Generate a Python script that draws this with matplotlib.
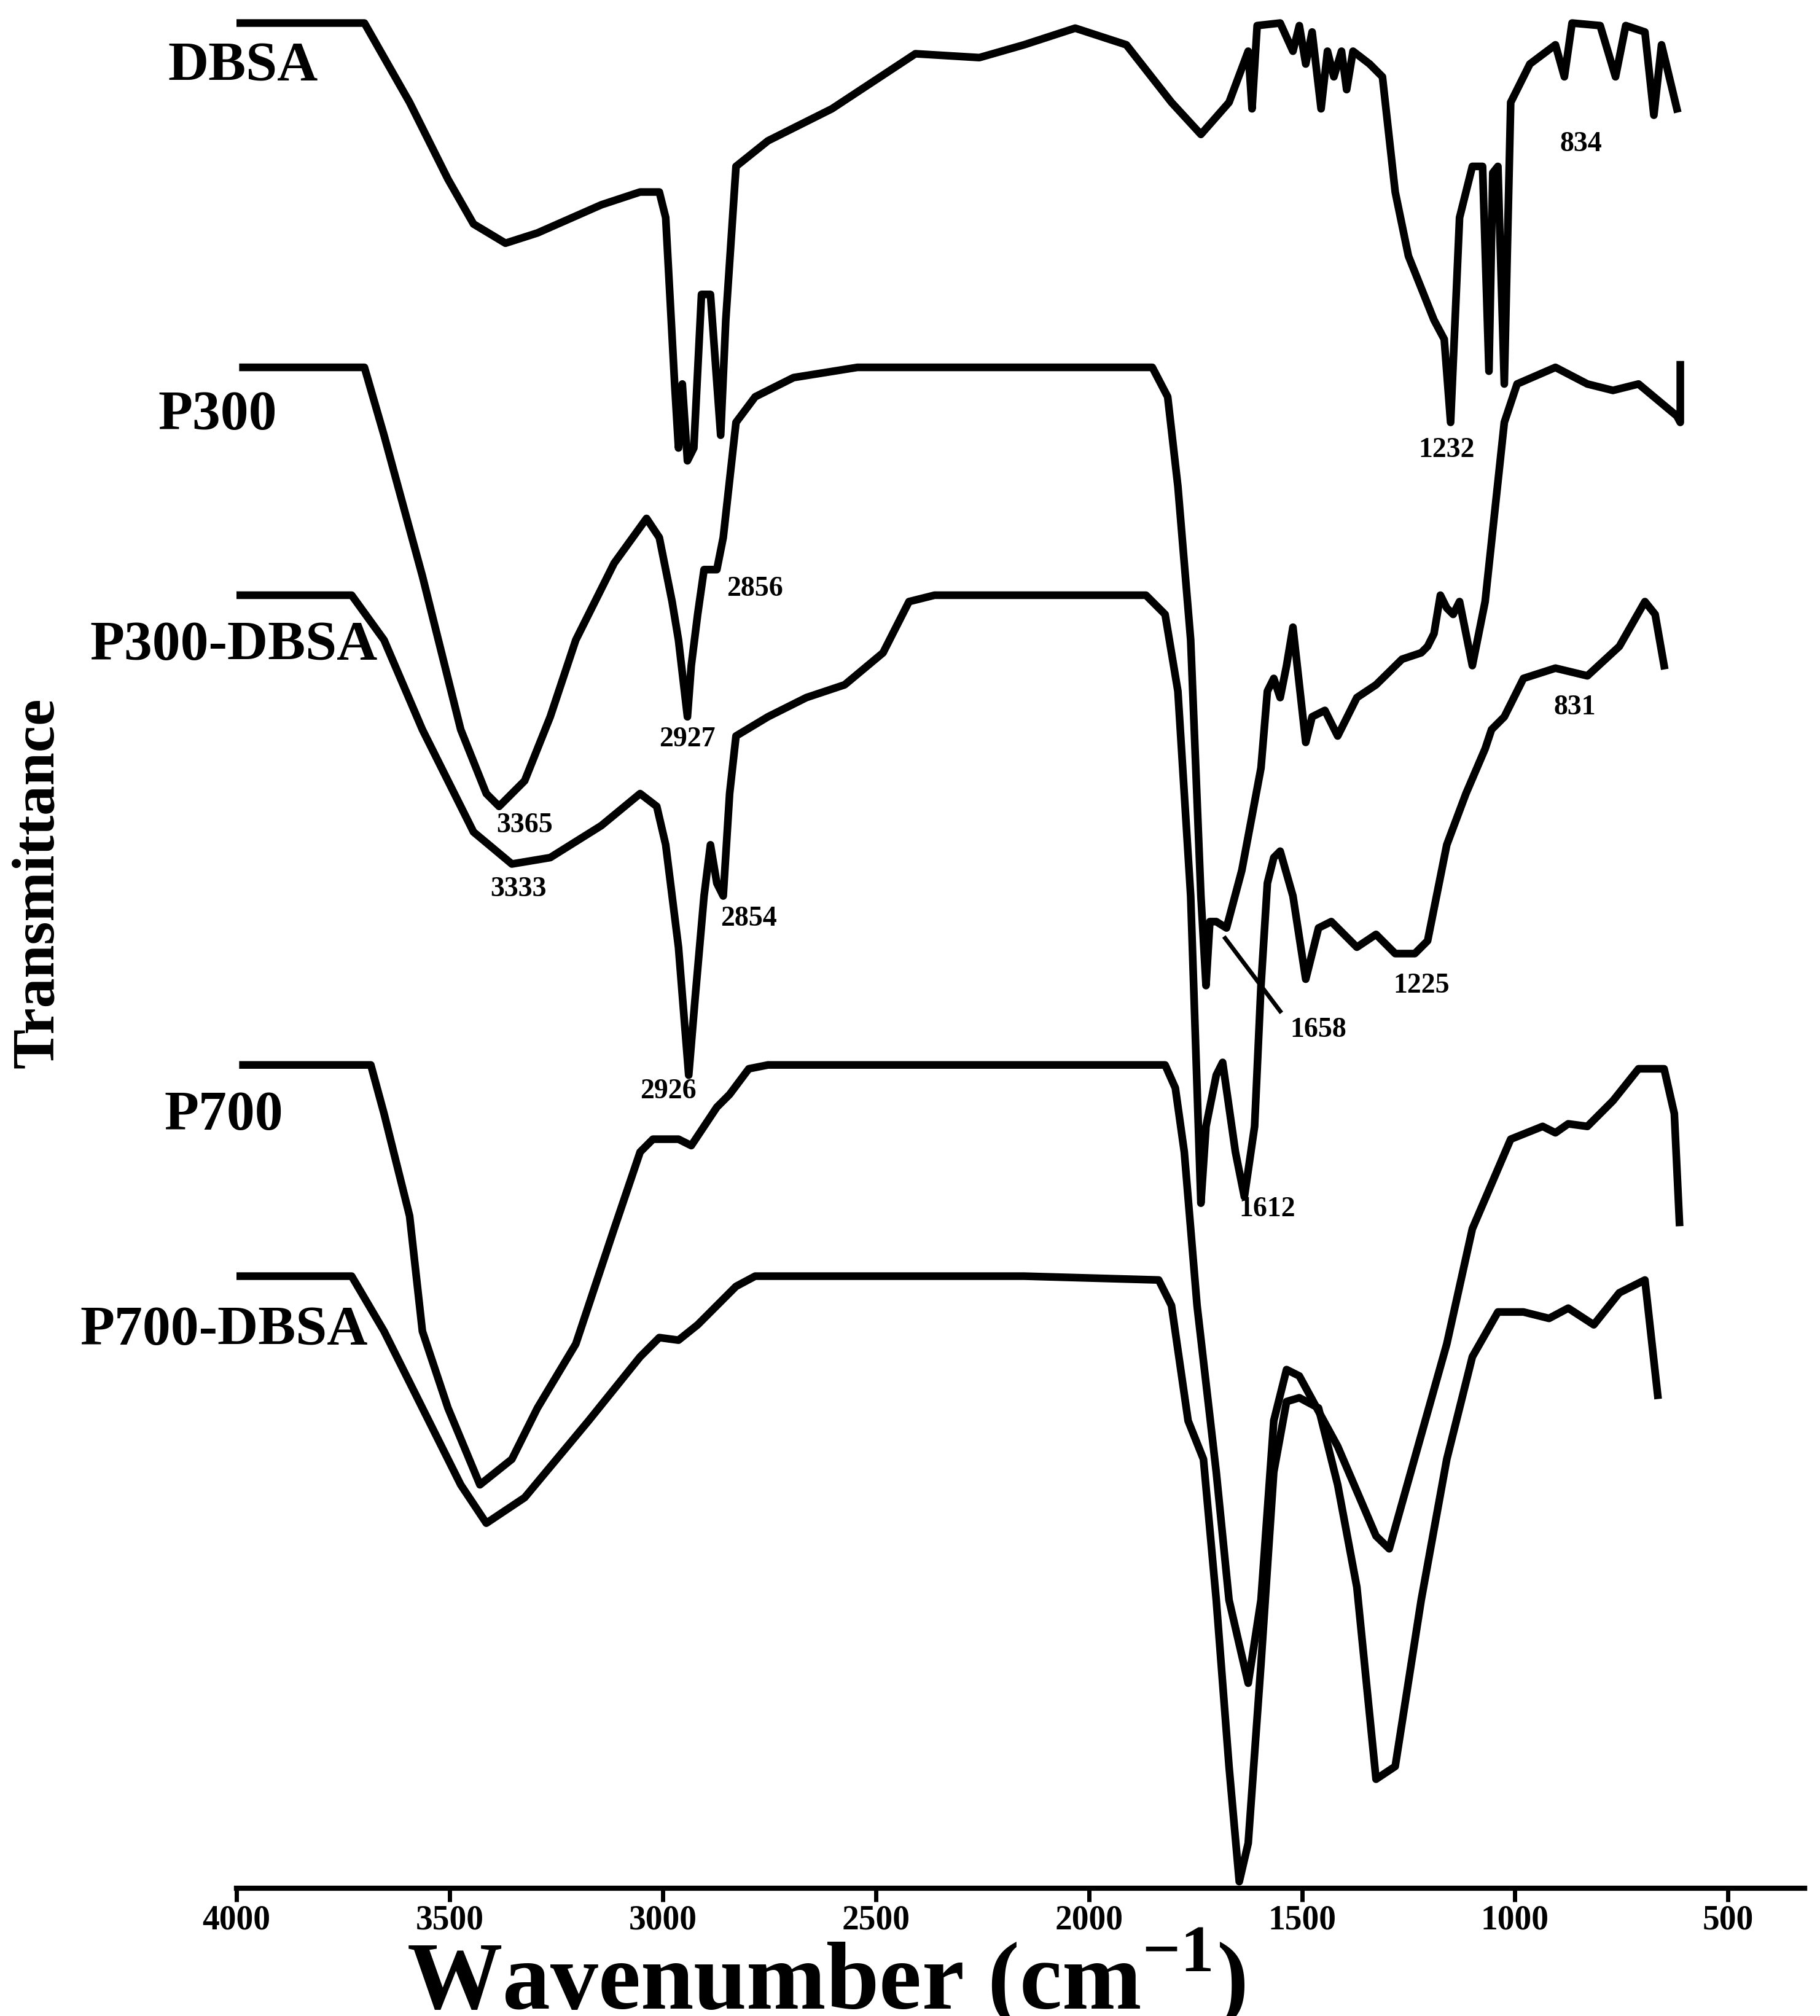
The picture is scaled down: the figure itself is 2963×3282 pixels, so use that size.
import matplotlib
matplotlib.use("Agg")
import matplotlib.pyplot as plt

plt.rcParams['font.family'] = ['Liberation Serif', 'DejaVu Serif']
plt.rcParams['font.weight'] = 'bold'
plt.rcParams['mathtext.fontset'] = 'custom'
plt.rcParams['mathtext.rm'] = 'Liberation Serif:bold'
plt.rcParams['mathtext.bf'] = 'Liberation Serif:bold'

# Curves: wavenumber and vertical position (offset stacked, 0 = top)
dbsa_w = [4000,3700,3594,3504,3444,3369,3294,3144,3053,3008,2993,2972,2963,2954,2942,2927,2909,2888,2864,2852,2828,2753,2603,2407,2257,2152,2032,1912,1806,1737,1671,1626,1617,1605,1551,1521,1506,1491,1476,1455,1440,1425,1407,1395,1380,1341,1311,1281,1250,1190,1166,1151,1130,1100,1076,1061,1052,1040,1025,1010,965,905,884,866,800,764,740,695,674,656,620]
dbsa_y = [18,18,80,140,175,190,182,160,150,150,170,300,350,300,360,350,230,230,340,250,130,110,85,42,45,35,22,35,80,105,80,40,85,20,18,40,20,50,25,85,40,60,40,70,40,50,60,150,200,250,265,330,170,130,130,290,135,130,300,80,50,35,60,18,20,60,20,25,90,35,85]

p300_w = [3985,3700,3654,3564,3474,3414,3384,3324,3264,3204,3114,3038,3008,2978,2963,2942,2933,2918,2903,2873,2858,2828,2783,2693,2543,1851,1815,1791,1761,1737,1725,1716,1701,1677,1641,1596,1581,1566,1551,1536,1521,1491,1476,1446,1416,1371,1326,1265,1220,1205,1190,1175,1160,1145,1130,1100,1070,1025,995,905,830,770,710,620,612,612]
p300_y = [287,287,340,450,570,620,630,610,560,500,440,405,420,470,500,560,520,480,445,445,420,330,310,295,287,287,310,380,500,700,770,720,720,725,680,600,540,530,545,520,490,580,560,555,575,545,535,515,510,505,495,465,475,480,470,520,470,330,300,287,300,305,300,325,330,285]

p3d_w = [4000,3730,3654,3564,3444,3354,3264,3144,3053,3014,2993,2963,2939,2924,2903,2888,2873,2858,2843,2828,2753,2663,2573,2483,2422,2362,1866,1821,1791,1761,1737,1725,1701,1686,1656,1635,1611,1596,1581,1566,1551,1521,1491,1461,1431,1371,1326,1281,1235,1205,1160,1115,1070,1055,1025,980,905,830,755,695,671,650]
p3d_y = [465,465,500,570,650,675,670,645,620,630,660,740,840,780,700,660,690,700,620,575,560,545,535,510,470,465,465,480,540,700,940,880,840,830,900,935,880,770,690,670,665,700,765,725,720,740,730,745,745,735,660,620,585,570,560,530,522,528,505,470,480,520]

p700_w = [3985,3685,3654,3594,3564,3504,3429,3354,3294,3204,3114,3053,3023,2963,2933,2903,2873,2843,2798,2753,1821,1797,1776,1746,1701,1671,1626,1596,1566,1536,1506,1416,1326,1295,1160,1100,1010,935,905,875,830,770,710,650,626,614]
p700_y = [832,832,870,950,1040,1100,1160,1140,1100,1050,960,900,890,890,895,880,865,855,835,832,832,850,900,1020,1150,1250,1315,1250,1110,1070,1075,1130,1200,1210,1050,960,890,880,885,878,880,860,835,835,870,955]

p7d_w = [4000,3730,3654,3564,3474,3414,3324,3174,3053,3008,2963,2918,2873,2828,2783,2152,1836,1806,1767,1731,1701,1671,1647,1626,1596,1566,1536,1506,1461,1416,1371,1326,1281,1220,1160,1100,1040,980,920,875,815,755,695,680,665]
p7d_y = [997,997,1040,1100,1160,1190,1170,1110,1060,1045,1047,1035,1020,1005,997,997,1000,1020,1110,1140,1250,1380,1470,1440,1300,1150,1095,1092,1100,1160,1240,1390,1380,1250,1140,1060,1025,1025,1030,1022,1035,1010,1000,1045,1090]

sample_names = ['DBSA', 'P300', 'P300-DBSA', 'P700', 'P700-DBSA']
name_pos_w = [3985, 4045, 4006, 4030, 4030]
name_pos_y = [52, 325, 505, 872, 1040]

peak_labels = ['834', '1232', '2856', '2927', '3365', '3333', '2854', '2926', '1658', '1225', '831', '1612']
peak_w = [845, 1160, 2783, 2942, 3324, 3339, 2798, 2987, 1461, 1220, 860, 1581]
peak_y = [113, 352, 460, 578, 645, 695, 718, 853, 805, 770, 553, 945]

ticks = [4000, 3500, 3000, 2500, 2000, 1500, 1000, 500]

fig = plt.figure(figsize=(29.63, 32.82), dpi=100)
ax = fig.add_axes([0.130, 0.0635, 0.8616, 0.9365])
lw = 9
for w, y in [(dbsa_w, dbsa_y), (p300_w, p300_y), (p3d_w, p3d_y), (p700_w, p700_y), (p7d_w, p7d_y)]:
    ax.plot(w, y, color='black', lw=lw, solid_joinstyle='round')

for n, w, y in zip(sample_names, name_pos_w, name_pos_y):
    ax.text(w, y, n, ha='center', va='center', fontsize=66, fontweight='bold', clip_on=False)
for n, w, y in zip(peak_labels, peak_w, peak_y):
    ax.text(w, y, n, ha='center', va='center', fontsize=33, fontweight='bold')
ax.plot([1680, 1551], [733, 790], color='black', lw=5)

ax.set_xlim(4000, 320)
ax.set_ylim(1475, 0)
ax.set_xticks(ticks)
ax.set_xticklabels([str(t) for t in ticks], fontsize=40, fontweight='bold')
ax.tick_params(axis='x', direction='out', length=16, width=5)
ax.set_yticks([])
for s in ['top', 'right', 'left']:
    ax.spines[s].set_visible(False)
ax.spines['bottom'].set_linewidth(6)

fig.text(0.454, 0.019, 'Wavenumber (cm$^{-1}$)', ha='center', va='center', fontsize=112, fontweight='bold')
fig.text(0.021, 0.562, 'Transmittance', ha='center', va='center', rotation=90, fontsize=70, fontweight='bold')

fig.savefig('out.png', dpi=100, facecolor='white')
